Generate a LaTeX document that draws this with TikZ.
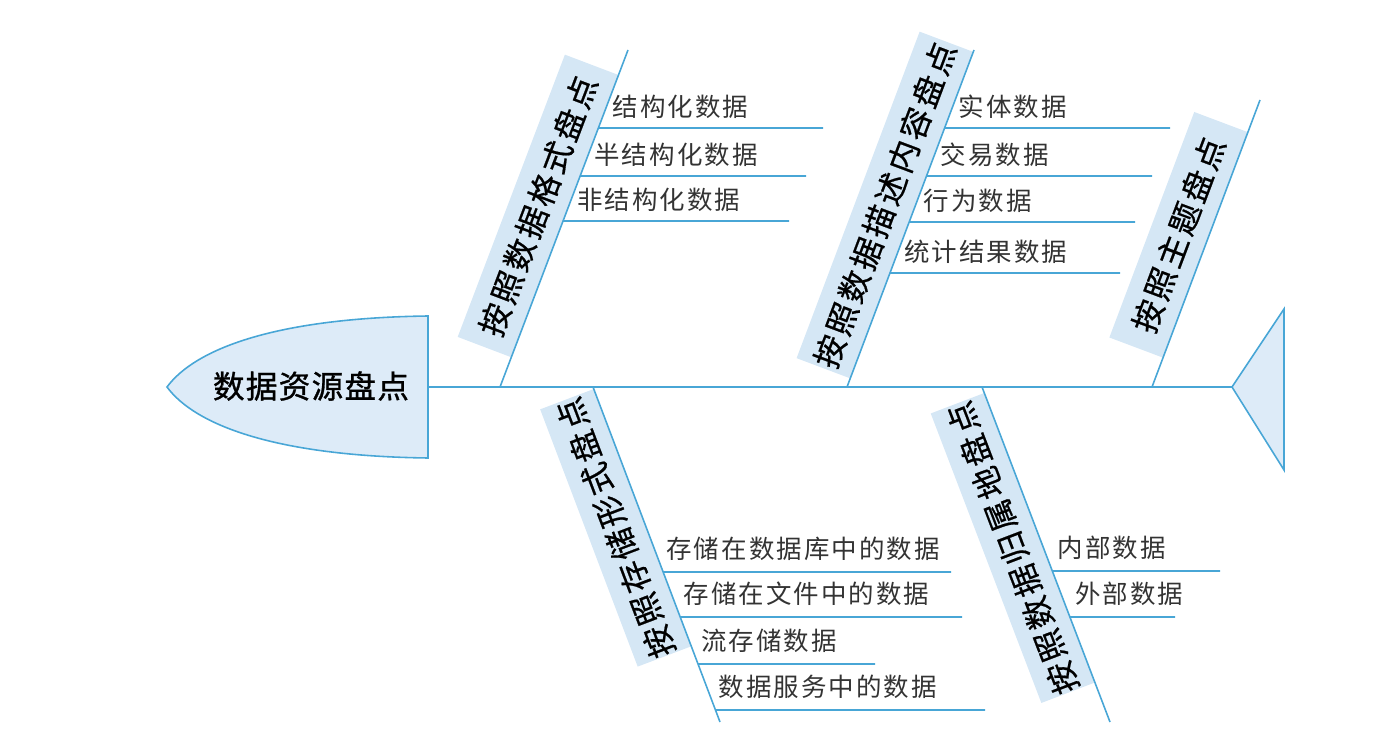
\documentclass[tikz,border=0pt]{standalone}
\usepackage{fontspec}
\newfontfamily\itemfont{Noto Sans CJK SC}[LetterSpace=8]
\newfontfamily\catfont{Noto Sans CJK SC}[LetterSpace=10, FakeBold=0.6]
\newfontfamily\headfont{Noto Sans CJK SC}[LetterSpace=4, FakeBold=1]
\usetikzlibrary{calc}
\definecolor{boneblue}{HTML}{48A6D6}
\definecolor{catfill}{HTML}{D5E7F5}
\definecolor{headfill}{HTML}{DDEBF8}
\tikzset{
  bone/.style={draw=boneblue, line width=0.9pt},
  cat/.style={fill=catfill, inner sep=0pt, minimum height=1.14cm,
    sloped, allow upside down, anchor=south,
    font=\catfont\fontsize{18}{18}\selectfont, text=black},
  item/.style={anchor=west, inner sep=0pt,
    font=\itemfont\fontsize{14.5}{14.5}\selectfont, text=black!80},
}
\begin{document}
\begin{tikzpicture}[x=0.02cm, y=-0.02cm]
  \useasboundingbox (0,0) rectangle (1386,746);
  % head and tail
  \draw[bone, fill=headfill] (428,316) -- (428,458)
    .. controls (275,456) and (195,425) .. (167,387)
    .. controls (195,349) and (275,318) .. (428,316) -- cycle;
  \node[font=\headfont\fontsize{18}{18}\selectfont] (head) at (311,386) {数据资源盘点};
  \coordinate (neck) at (428,387);
  \draw[bone, fill=headfill] (1232,387) coordinate (tail) -- (1284,309) -- (1284,470) -- cycle;
  % bones
  \coordinate (u1s) at (500,387);  \coordinate (u1e) at (628,50);
  \coordinate (u2s) at (847,387);  \coordinate (u2e) at (974,50);
  \coordinate (u3s) at (1152,387); \coordinate (u3e) at (1260,100);
  \coordinate (d1s) at (720,722);  \coordinate (d1e) at (593,387);
  \coordinate (d2s) at (1110,722); \coordinate (d2e) at (982,387);
  \path (u1s) -- (u1e) node[cat, pos=0.507, minimum width=6.04cm] (cat1) {按照数据格式盘点};
  \path (u2s) -- (u2e) node[cat, pos=0.51, minimum width=6.98cm] (cat2) {按照数据描述内容盘点};
  \path (u3s) -- (u3e) node[cat, pos=0.495, minimum width=4.82cm] (cat3) {按照主题盘点};
  \path (d1s) -- (d1e) node[cat, pos=0.61, minimum width=5.5cm] (cat4) {按照存储形式盘点};
  \path (d2s) -- (d2e) node[cat, pos=0.55, minimum width=5.92cm] (cat5) {按照数据归属地盘点};
  \draw[bone] (neck) -- (tail);
  \foreach \b in {u1,u2,u3,d1,d2}
    \draw[bone] (\b s) -- (\b e);
  % branches above the spine
  \foreach \y/\xe/\txt [count=\i] in {128/823/结构化数据, 176/806/半结构化数据, 221/789/非结构化数据} {
    \coordinate (u1a\i) at ($(u1s)!{(387-\y)/337}!(u1e)$);
    \coordinate (u1b\i) at (\xe,\y);
    \draw[bone] (u1a\i) -- (u1b\i);
    \node[item] (u1t\i) at ($(u1a\i)+(14,-21)$) {\txt};
  }
  \foreach \y/\xe/\txt [count=\i] in {128/1170/实体数据, 176/1152/交易数据, 222/1135/行为数据, 273/1120/统计结果数据} {
    \coordinate (u2a\i) at ($(u2s)!{(387-\y)/337}!(u2e)$);
    \coordinate (u2b\i) at (\xe,\y);
    \draw[bone] (u2a\i) -- (u2b\i);
    \node[item] (u2t\i) at ($(u2a\i)+(14,-21)$) {\txt};
  }
  % branches below the spine
  \foreach \y/\xe/\txt [count=\i] in {572/951/存储在数据库中的数据, 617/962/存储在文件中的数据, 664/875/流存储数据, 710/985/数据服务中的数据} {
    \coordinate (d1a\i) at ($(d1s)!{(722-\y)/335}!(d1e)$);
    \coordinate (d1b\i) at (\xe,\y);
    \draw[bone] (d1a\i) -- (d1b\i);
    \node[item] (d1t\i) at ($(d1a\i)+(3,-23)$) {\txt};
  }
  \foreach \y/\xe/\txt [count=\i] in {571/1220/内部数据, 617/1175/外部数据} {
    \coordinate (d2a\i) at ($(d2s)!{(722-\y)/335}!(d2e)$);
    \coordinate (d2b\i) at (\xe,\y);
    \draw[bone] (d2a\i) -- (d2b\i);
    \node[item] (d2t\i) at ($(d2a\i)+(5,-23)$) {\txt};
  }
\end{tikzpicture}
\end{document}
